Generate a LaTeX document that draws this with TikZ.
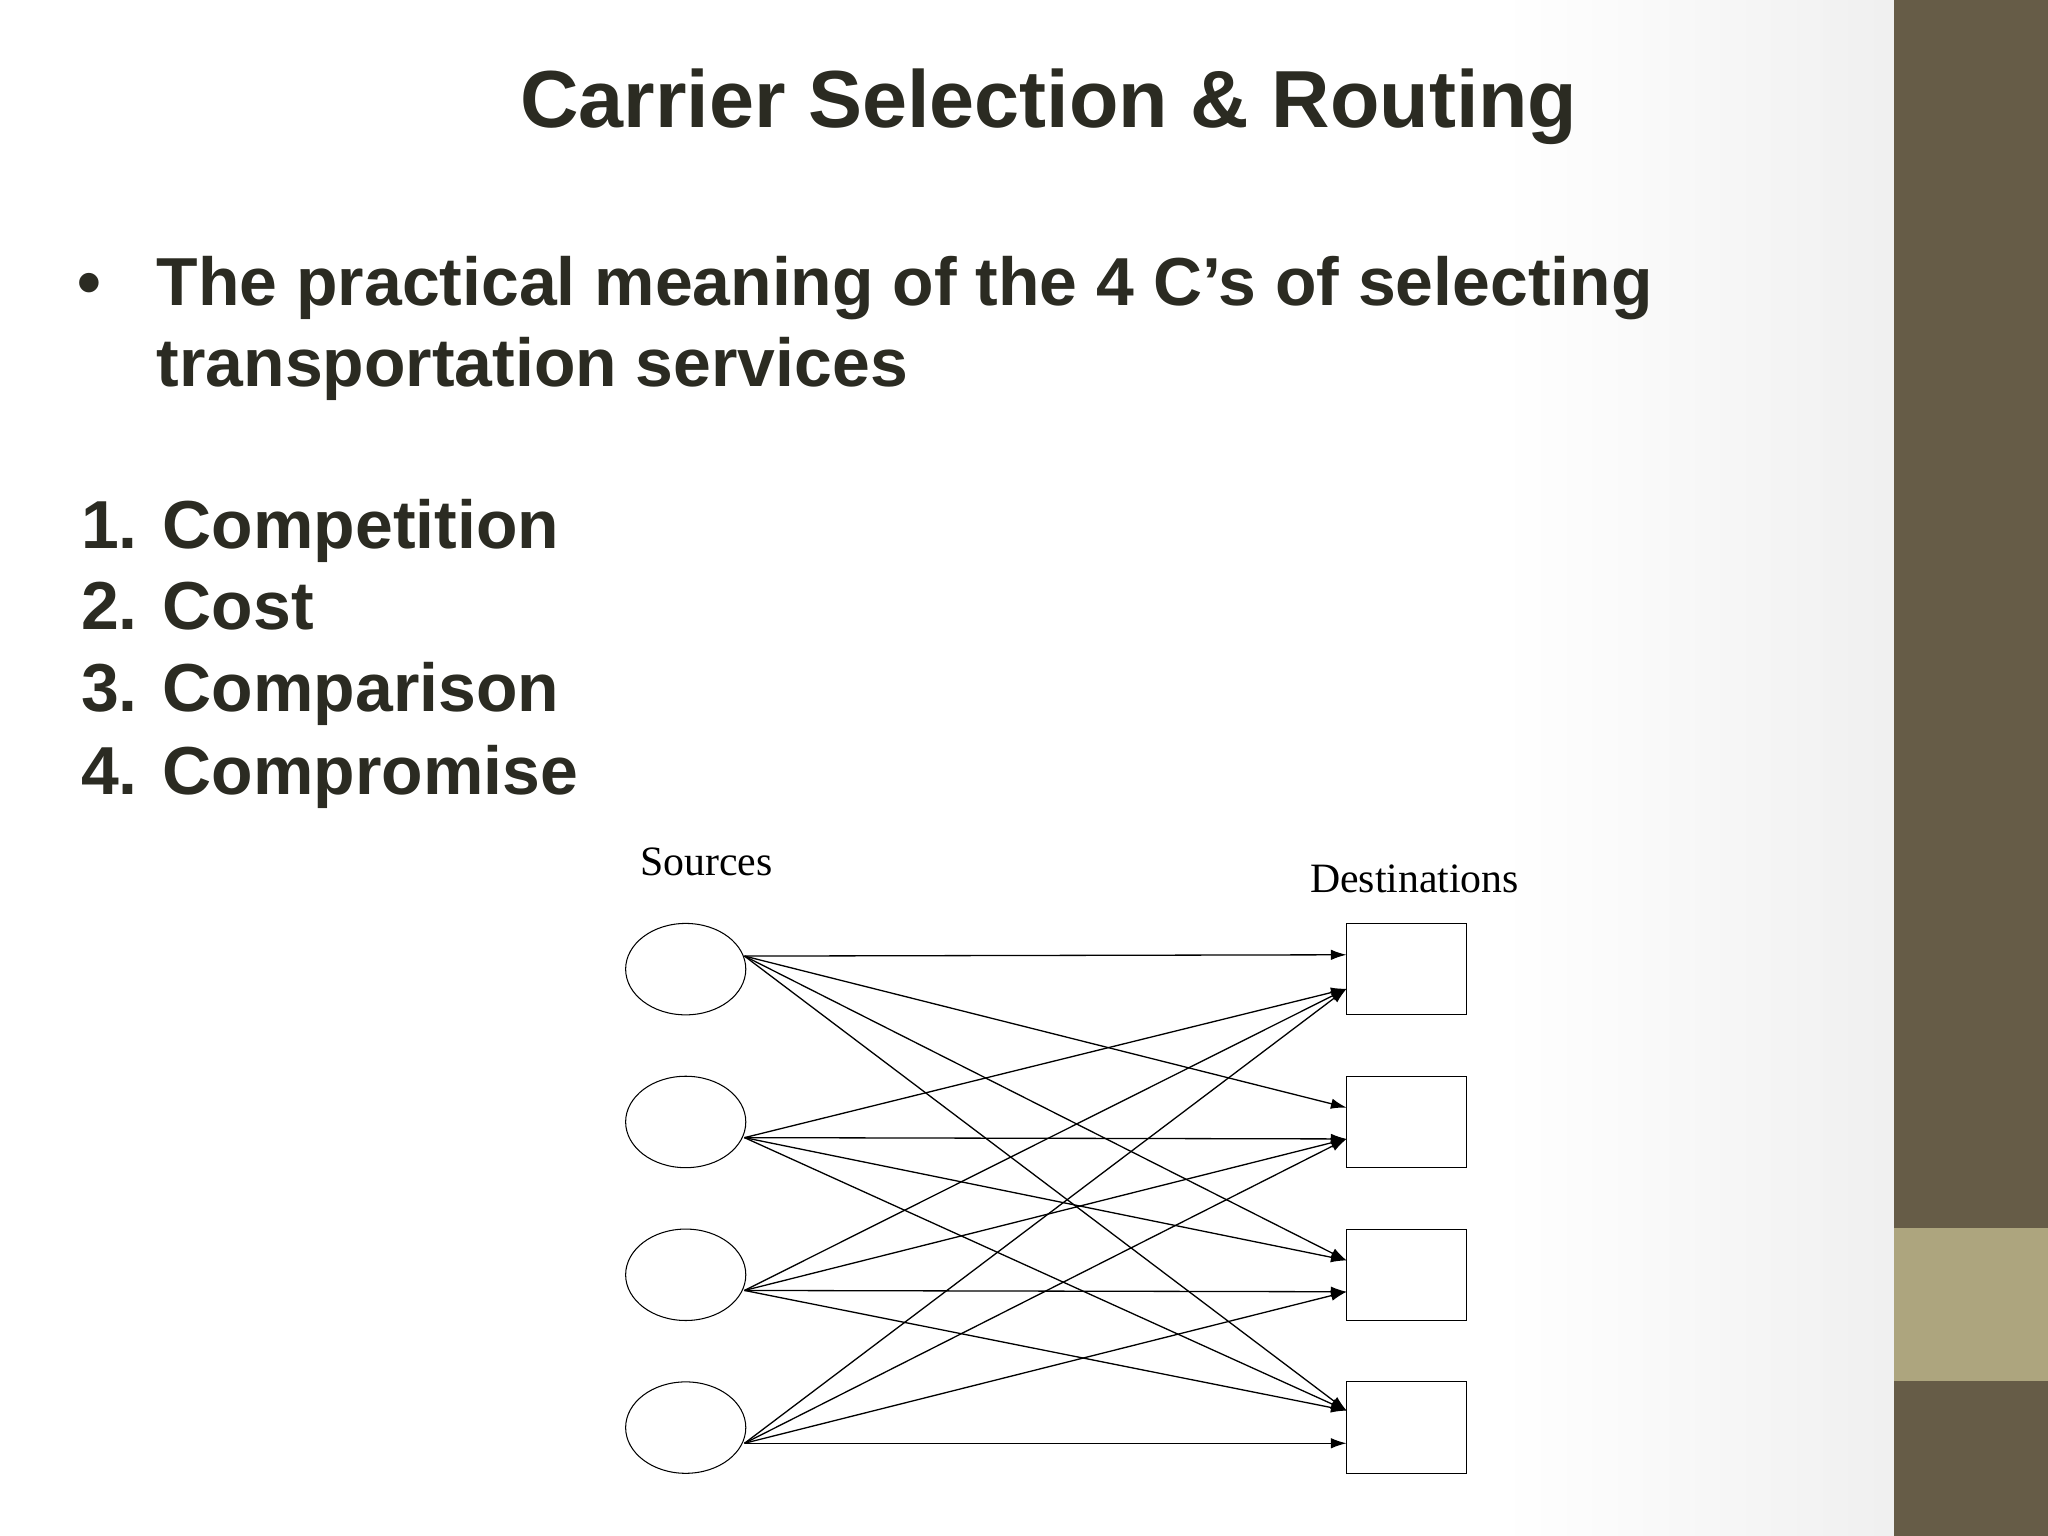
\documentclass[tikz,border=0pt]{standalone}
\usepackage{fontspec}
\setmainfont{Liberation Sans}
\newfontfamily\serf{Liberation Serif}
\usetikzlibrary{arrows.meta,shapes.geometric}
\definecolor{txt}{HTML}{2B2B22}
\definecolor{bar}{HTML}{665C47}
\definecolor{band}{HTML}{ADA57E}
\begin{document}
\begin{tikzpicture}[x=0.5pt,y=-0.5pt,
  src/.style={draw,ellipse,minimum width=46pt,minimum height=35pt,inner sep=0pt},
  dst/.style={draw,rectangle,minimum width=46pt,minimum height=35pt,inner sep=0pt},
  conn/.style={-{Latex[length=6pt,width=4pt]},line width=0.5pt},
  bt/.style={anchor=base west,text=txt,font=\fontsize{26}{31}\selectfont\bfseries}]
\useasboundingbox (0,0) rectangle (1568,1176);
\shade[left color=white,right color=white!88!gray] (1150,0) rectangle (1450,1176);
\fill[white] (0,0) rectangle (1150,1176);
\fill[bar] (1450,0) rectangle (1568,1176);
\fill[band] (1450,940) rectangle (1568,1057);
\node[anchor=base,text=txt,font=\fontsize{31}{36}\selectfont\bfseries] (title) at (803,98) {Carrier Selection \& Routing};
\node[anchor=base west,text=txt,font=\fontsize{26}{31}\selectfont\bfseries] (bul) at (52,234) {•};
\node[bt] (l1) at (113,234) {The practical meaning of the 4 C’s of selecting};
\node[bt] (l2) at (113,296) {transportation services};
\node[bt] (c1) at (55,420) {1. Competition};
\node[bt] (c2) at (55,482) {2. Cost};
\node[bt] (c3) at (55,545) {3. Comparison};
\node[bt] (c4) at (55,608) {4. Compromise};
\node[anchor=base,font=\serf\fontsize{16}{19}\selectfont] (srcl) at (541,670) {Sources};
\node[anchor=base,font=\serf\fontsize{16}{19}\selectfont] (dstl) at (1083,683) {Destinations};
\foreach \i/\y in {1/742,2/859,3/976,4/1093}{
  \node[src] (s\i) at (525,\y) {};
  \node[dst] (d\i) at (1077,\y) {};
}
\coordinate (o1) at (570,732);
\coordinate (o2) at (570,871);
\coordinate (o3) at (570,988);
\coordinate (o4) at (570,1105);
\coordinate (t1a) at (1031,731); \coordinate (t1b) at (1031,757);
\coordinate (t2a) at (1031,848); \coordinate (t2b) at (1031,872);
\coordinate (t3a) at (1031,965); \coordinate (t3b) at (1031,989);
\coordinate (t4a) at (1031,1080); \coordinate (t4b) at (1031,1105);
\draw[conn] (o1) -- (t1a);
\draw[conn] (o1) -- (t2a);
\draw[conn] (o1) -- (t3a);
\draw[conn] (o1) -- (t4a);
\draw[conn] (o2) -- (t1b);
\draw[conn] (o2) -- (t2b);
\draw[conn] (o2) -- (t3a);
\draw[conn] (o2) -- (t4a);
\draw[conn] (o3) -- (t1b);
\draw[conn] (o3) -- (t2b);
\draw[conn] (o3) -- (t3b);
\draw[conn] (o3) -- (t4a);
\draw[conn] (o4) -- (t1b);
\draw[conn] (o4) -- (t2b);
\draw[conn] (o4) -- (t3b);
\draw[conn] (o4) -- (t4b);
\end{tikzpicture}
\end{document}
